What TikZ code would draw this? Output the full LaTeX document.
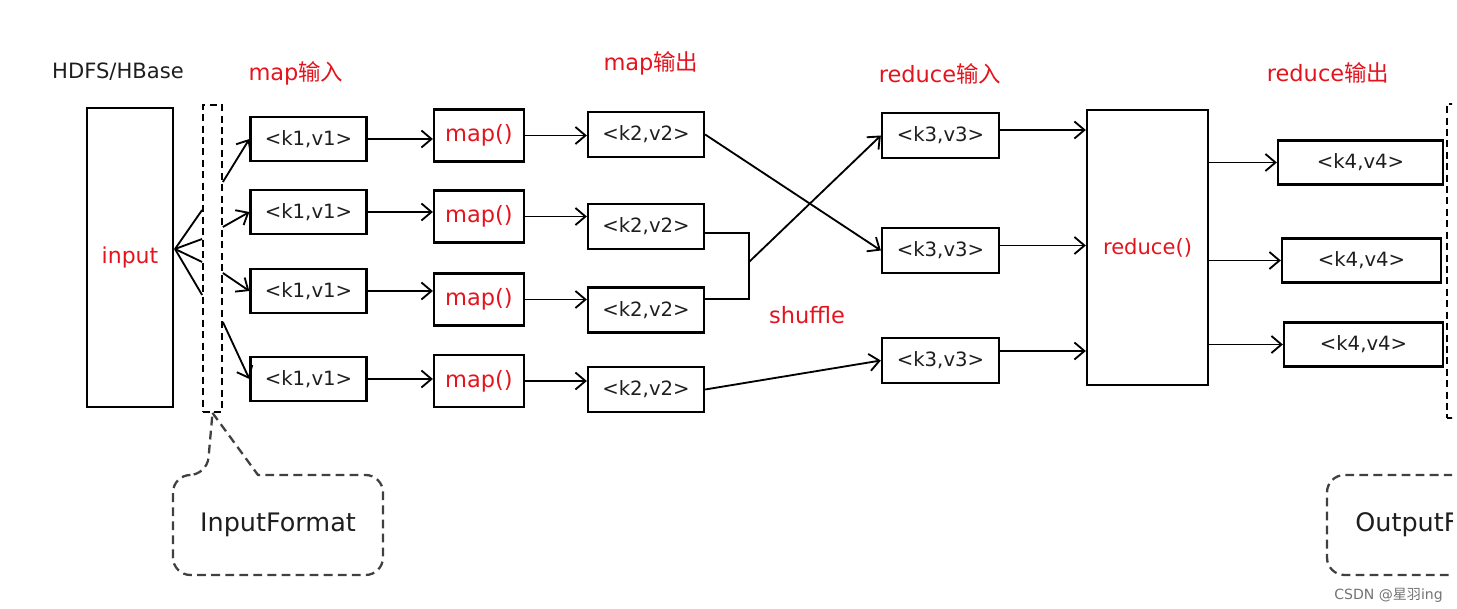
\documentclass[tikz,border=0pt]{standalone}
\usepackage{fontspec}
\setmainfont{DejaVu Sans}
\newfontfamily\cjk{Noto Sans CJK SC}
\usepackage{xcolor}
\usetikzlibrary{arrows.meta}
\definecolor{lblred}{RGB}{228,20,30}
\definecolor{txtdark}{RGB}{30,30,30}

\begin{document}
\begin{tikzpicture}[>={Straight Barb[length=2mm,width=3.4mm]},
    kvbox/.style={draw, line width=1.3pt, minimum width=2.32cm, minimum height=0.88cm, inner sep=0pt, text=txtdark, font=\fontsize{11.2}{13}\selectfont},
    fnbox/.style={kvbox, text=lblred, font=\fontsize{12.8}{15}\selectfont},
    stage/.style={text=lblred, font=\fontsize{12.8}{15}\selectfont},
    flow/.style={->, line width=1.05pt},
    callout/.style={line width=1.3pt, draw=black!75, dash pattern=on 5pt off 3pt}]

    % --- LAYER 1: BATAS GAMBAR ---
    \useasboundingbox (0,0) rectangle (29.14,12.18);
    \clip (0,0) rectangle (29.04,12.18);

    % --- LAYER 2: JUDUL TAHAP ---
    \node[text=txtdark, font=\fontsize{12}{14}\selectfont] (hdfs) at (2.36,10.74) {HDFS/HBase};
    \node[stage] (mapin)  at (5.92,10.72)  {map{\cjk 输入}};
    \node[stage] (mapout) at (13.02,10.92) {map{\cjk 输出}};
    \node[stage] (redin)  at (18.80,10.70) {reduce{\cjk 输入}};
    \node[stage] (redout) at (26.56,10.72) {reduce{\cjk 输出}};
    \node[stage] (shuffle) at (16.14,5.88) {shuffle};

    % --- LAYER 3: INPUT DAN INPUTFORMAT ---
    \node[draw, line width=1.3pt, minimum width=1.72cm, minimum height=5.98cm, text=lblred, font=\fontsize{12.5}{14}\selectfont] (input) at (2.60,7.03) {input};
    \node[draw, line width=1pt, dash pattern=on 4pt off 2.5pt, minimum width=0.38cm, minimum height=6.14cm] (fmt) at (4.25,7.01) {};
    \coordinate (fan) at (3.50,7.20);
    \foreach \y in {7.98,7.40,6.94,6.28}
        \draw[line width=1.05pt] (fan) -- (fmt.west |- 0,\y);

    % --- LAYER 4: MAP (k1,v1 -> map() -> k2,v2) ---
    \foreach \i/\ya/\yb/\yc/\ys in {1/9.40/9.47/9.49/8.54, 2/7.94/7.85/7.65/7.64, 3/6.36/6.19/5.98/6.72, 4/4.60/4.56/4.39/5.74} {
        \node[kvbox] (kA\i) at (6.17,\ya) {<k1,v1>};
        \node[fnbox, minimum width=1.80cm, minimum height=1.04cm] (map\i) at (9.58,\yb) {map()};
        \node[kvbox, minimum height=0.90cm] (kB\i) at (12.92,\yc) {<k2,v2>};
        \draw[flow] (fmt.east |- 0,\ys) -- (kA\i.west);
        \draw[flow] (kA\i.east) -- (kA\i.east -| map\i.west);
        \draw[flow] (map\i.east) -- (map\i.east -| kB\i.west);
    }

    % --- LAYER 5: SHUFFLE DAN REDUCE ---
    \foreach \i/\y in {1/9.47, 2/7.17, 3/4.97}
        \node[kvbox, minimum width=2.34cm, minimum height=0.90cm] (kC\i) at (18.81,\y) {<k3,v3>};
    \coordinate (shf) at (14.98,6.94);
    \draw[flow] (kB1.east) -- (kC2.west);
    \draw[line width=1.05pt] ([yshift=-0.13cm]kB2.east) -| (shf) |- ([yshift=0.22cm]kB3.east);
    \draw[flow] (shf) -- (kC1.west);
    \draw[flow] (kB4.east) -- (kC3.west);

    \node[draw, line width=1.3pt, minimum width=2.42cm, minimum height=5.50cm, text=lblred, font=\fontsize{12}{14}\selectfont] (reduce) at (22.95,7.23) {reduce()};
    \foreach \i/\d in {1/0.11, 2/0.10, 3/0.19}
        \draw[flow] ([yshift=\d cm]kC\i.east) -- ([yshift=\d cm]kC\i.east -| reduce.west);

    % --- LAYER 6: OUTPUT (k4,v4) ---
    \foreach \i/\x/\w/\y in {1/27.21/3.30/8.93, 2/27.23/3.18/6.97, 3/27.27/3.18/5.29} {
        \node[kvbox, minimum width=\w cm] (kD\i) at (\x,\y) {<k4,v4>};
        \draw[flow] (reduce.east |- kD\i.west) -- (kD\i.west);
    }
    \node[draw, line width=1pt, dash pattern=on 4pt off 2.5pt, minimum width=0.38cm, minimum height=6.28cm] (ofmt) at (29.13,6.96) {};

    % --- LAYER 7: CALLOUT INPUTFORMAT / OUTPUTFORMAT ---
    \draw[callout] (fmt.south) -- (5.16,2.68) {[rounded corners=0.35cm] -- (7.66,2.68) -- (7.66,0.68) -- (3.46,0.68) -- (3.46,2.68) -- (4.14,2.68)} -- cycle;
    \node[text=txtdark, font=\fontsize{14.5}{17}\selectfont] (infmt) at (5.56,1.68) {InputFormat};

    \draw[callout] (ofmt.south) -- (29.9,2.68) {[rounded corners=0.35cm] -- (31.0,2.68) -- (31.0,0.68) -- (26.54,0.68) -- (26.54,2.68) -- (29.5,2.68)} -- cycle;
    \node[anchor=west, inner sep=0pt, text=txtdark, font=\fontsize{14.5}{17}\selectfont] (outfmt) at (27.10,1.68) {OutputFormat};

    % --- LAYER 8: TANDA AIR ---
    \node[text=black!55, font=\fontsize{8}{10}\selectfont] (mark) at (27.77,0.28) {CSDN @{\cjk 星羽}ing};

\end{tikzpicture}
\end{document}
